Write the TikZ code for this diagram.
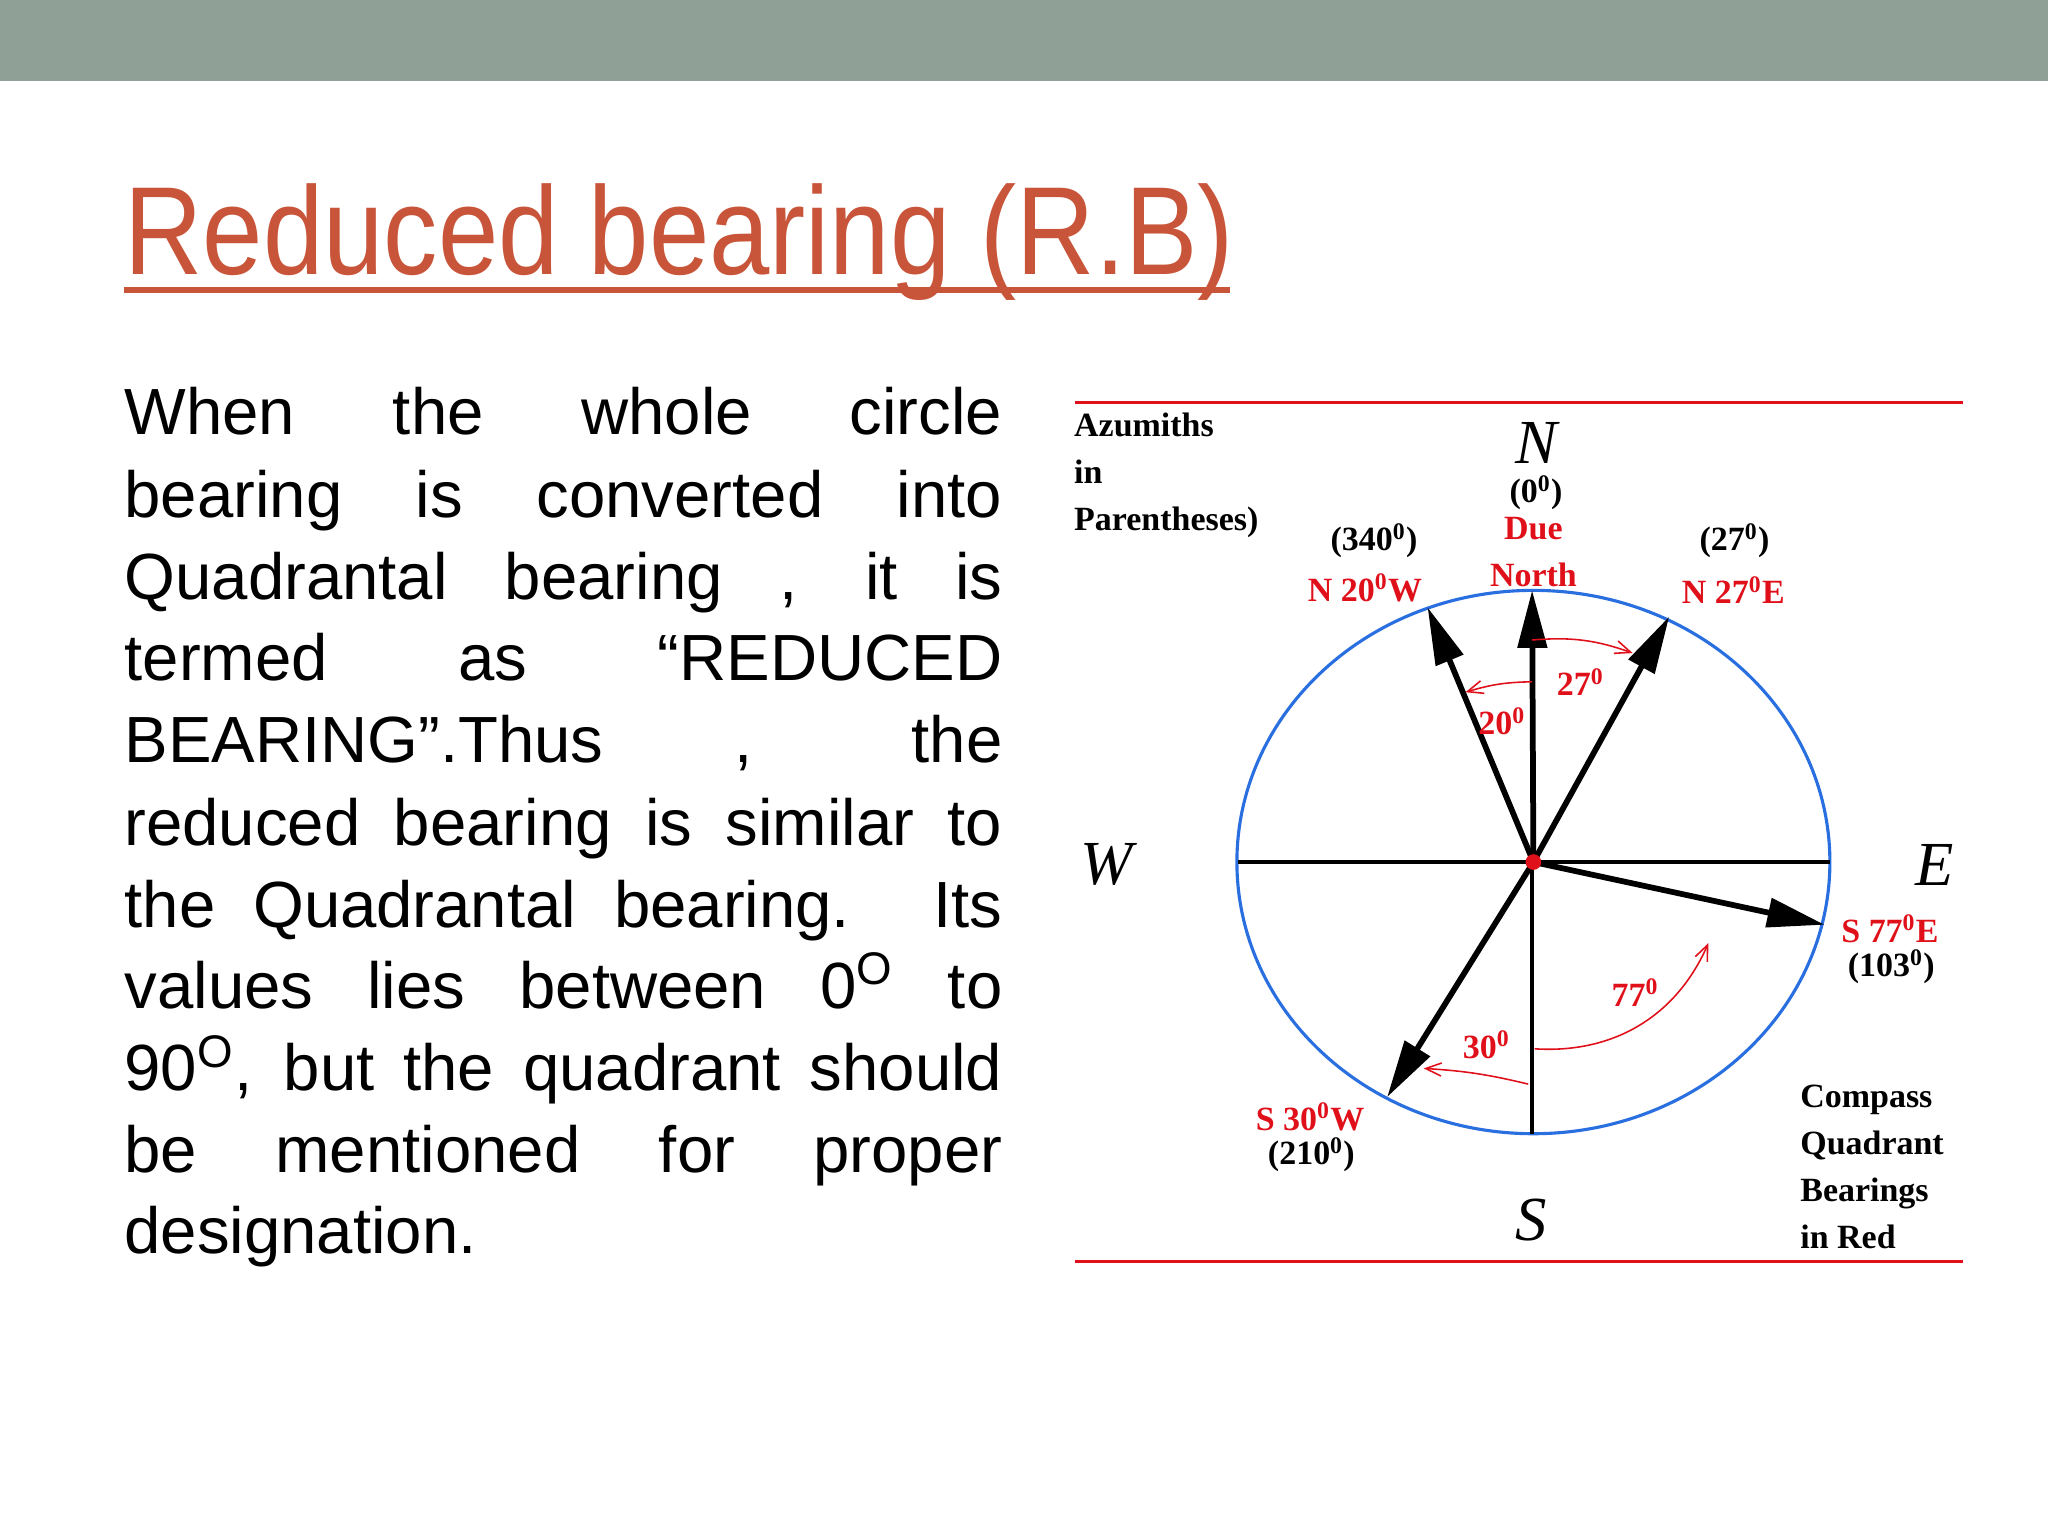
\documentclass[tikz,border=0pt]{standalone}
\usepackage{fontspec}
\setmainfont{Liberation Serif}
\newfontfamily\bodyf{Liberation Sans}
\usetikzlibrary{arrows.meta,shadows}
\definecolor{bar}{HTML}{8FA197}
\definecolor{ttl}{HTML}{C8553A}
\definecolor{rd}{HTML}{E0101A}
\definecolor{bl}{HTML}{2A6FE0}
\tikzset{x=0.5pt,y=-0.5pt,
 bline/.style={anchor=base west,inner sep=0,font=\bodyf\fontsize{25}{30}\selectfont},
 lab/.style={inner sep=0,font=\bfseries\fontsize{13}{13}\selectfont},
 rlab/.style={lab,text=rd},
 dir/.style={inner sep=0,font=\itshape\fontsize{24}{24}\selectfont},
 arr/.style={line width=2.2pt,-{Triangle[length=22pt,width=11pt]}},
 rarc/.style={rd,line width=0.6pt,-{Straight Barb[length=6pt,width=5pt]}}}
\newcommand{\jl}[1]{\makebox[336pt][s]{#1}}
\begin{document}
\begin{tikzpicture}
\useasboundingbox (0,0) rectangle (1568,1176);
\fill[bar] (0,0) rectangle (1568,62);
\node[anchor=base west,inner sep=0,text=ttl,font=\bodyf\fontsize{48}{50}\selectfont] (title) at (95,210) {\scalebox{0.865}[1]{Reduced bearing (R.B)}};
\draw[ttl,line width=2pt] (95,222) -- (942,222);
\node[bline] (l1) at (95,333) {\jl{When the whole circle}};
\node[bline] (l2) at (95,396) {\jl{bearing is converted into}};
\node[bline] (l3) at (95,459) {\jl{Quadrantal bearing , it is}};
\node[bline] (l4) at (95,521) {\jl{termed as “REDUCED}};
\node[bline] (l5) at (95,584) {\jl{BEARING”.Thus , the}};
\node[bline] (l6) at (95,647) {\jl{reduced bearing is similar to}};
\node[bline] (l7) at (95,710) {\jl{the Quadrantal bearing. Its}};
\node[bline] (l8) at (95,772) {\jl{values lies between 0\textsuperscript{O} to}};
\node[bline] (l9) at (95,835) {\jl{90\textsuperscript{O}, but the quadrant should}};
\node[bline] (l10) at (95,898) {\jl{be mentioned for proper}};
\node[bline] (l11) at (95,960) {designation.};
% diagram
\draw[rd,line width=1pt] (823,308) -- (1503,308);
\draw[rd,line width=1pt] (823,966) -- (1503,966);
\draw[bl,line width=1.2pt] (1174,660) ellipse [x radius=227,y radius=-208];
\coordinate (c) at (1174,660);
\draw[line width=1.3pt] (948,660) -- (1401,660);
\draw[line width=1.3pt] (1173,660) -- (1173,868);
\draw[arr] (c) -- (1173,452);
\draw[arr] (c) -- (1093,465);
\draw[arr] (c) -- (1278,472);
\draw[arr] (c) -- (1397,708);
\draw[arr] (c) -- (1062,840);
\fill[rd] (c) circle [radius=6];
\draw[rarc] (1173,490) to[bend left=12] (1250,500);
\draw[rarc] (1173,522) to[bend right=8] (1122,530);
\draw[rarc] (1175,803) to[bend right=35] (1308,722);
\draw[rarc] (1170,830) to[bend right=5] (1090,818);
\node[rlab] (a27) at (1210,522) {27\textsuperscript{0}};
\node[rlab] (a20) at (1150,552) {20\textsuperscript{0}};
\node[rlab] (a77) at (1252,760) {77\textsuperscript{0}};
\node[rlab] (a30) at (1138,800) {30\textsuperscript{0}};
\node[dir] (N) at (1176,339) {N};
\node[dir] (W) at (847,662) {W};
\node[dir] (E) at (1481,662) {E};
\node[dir] (S) at (1172,934) {S};
\node[lab,align=left,anchor=north west] (az) at (822,316) {Azumiths\\[5pt]in\\[5pt]Parentheses)};
\node[lab,align=left,anchor=north west] (cq) at (1378,830) {Compass\\[5pt]Quadrant\\[5pt]Bearings\\[5pt]in Red};
\node[lab] (z0) at (1176,377) {(0\textsuperscript{0})};
\node[rlab,align=center] (dn) at (1174,423) {Due\\[5pt]North};
\node[lab] (z340) at (1052,414) {(340\textsuperscript{0})};
\node[rlab] (n20) at (1045,450) {N 20\textsuperscript{0}W};
\node[lab] (z27) at (1328,414) {(27\textsuperscript{0})};
\node[rlab] (n27) at (1327,452) {N 27\textsuperscript{0}E};
\node[rlab] (s77) at (1447,711) {S 77\textsuperscript{0}E};
\node[lab] (z103) at (1448,740) {(103\textsuperscript{0})};
\node[rlab] (s30) at (1003,855) {S 30\textsuperscript{0}W};
\node[lab] (z210) at (1004,884) {(210\textsuperscript{0})};
\end{tikzpicture}
\end{document}
